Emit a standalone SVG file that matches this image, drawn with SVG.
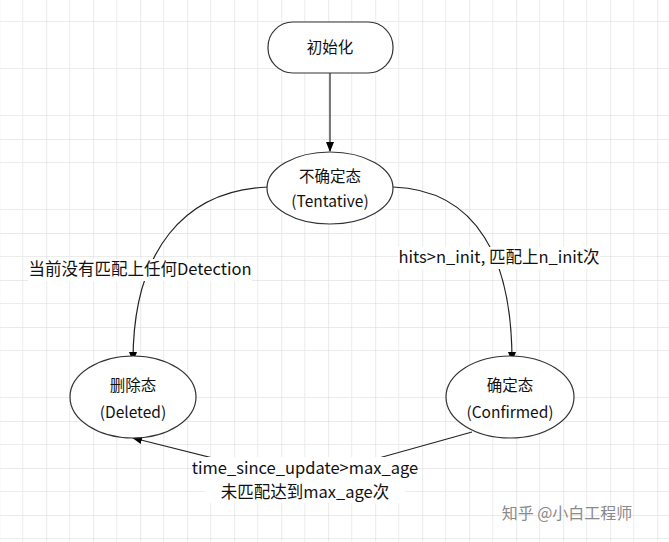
<svg xmlns="http://www.w3.org/2000/svg" width="669" height="542" viewBox="0 0 669 542">
<defs>
<pattern id="g" x="-0.8" y="-2" width="47" height="47" patternUnits="userSpaceOnUse">
<path d="M23.5 0V47M0 23.5H47" stroke="#ececec" stroke-width="1" fill="none"/>
<path d="M0 0V47M0 0H47" stroke="#d6d6d6" stroke-width="1" fill="none"/>
</pattern>
<marker id="a" markerWidth="10" markerHeight="10" refX="9" refY="5" orient="auto" markerUnits="userSpaceOnUse"><path d="M0,1L10,5L0,9Z" fill="#000"/></marker>
</defs>
<style>
text{font-family:"Noto Sans CJK SC","Noto Sans",sans-serif;font-size:15.5px;fill:#111;text-anchor:middle}
.l{font-size:16.5px}
.n{fill:#fff;stroke:#333;stroke-width:1.2}
.e{fill:none;stroke:#222;stroke-width:1.2}
</style>
<rect width="669" height="542" fill="#fff"/>
<rect width="669" height="542" fill="url(#g)"/>
<g id="edges">
<path class="e" d="M330,73V151" marker-end="url(#a)"/>
<path class="e" d="M268,187C185,190 133,250 133,361" marker-end="url(#a)"/>
<path class="e" d="M393,187C478,190 512,260 512,361" marker-end="url(#a)"/>
<path class="e" d="M472,432L300,480L133,438" marker-end="url(#a)"/>
</g>
<g id="init"><rect class="n" x="268" y="22" width="125" height="51" rx="25"/><text x="330" y="53">初始化</text></g>
<g id="tentative"><ellipse class="n" cx="330" cy="188" rx="63" ry="36"/><text x="330" y="182">不确定态</text><text x="330" y="207">(Tentative)</text></g>
<g id="deleted"><ellipse class="n" cx="133" cy="397" rx="63" ry="41"/><text x="133" y="391">删除态</text><text x="133" y="418">(Deleted)</text></g>
<g id="confirmed"><ellipse class="n" cx="510" cy="397" rx="64" ry="41"/><text x="510" y="391">确定态</text><text x="510" y="418">(Confirmed)</text></g>
<g id="labels">
<rect x="28" y="259" width="224" height="22" fill="#fff"/>
<text class="l" x="140" y="275">当前没有匹配上任何Detection</text>
<rect x="398" y="247" width="202" height="22" fill="#fff"/>
<text class="l" x="499" y="263">hits&gt;n_init, 匹配上n_init次</text>
<rect x="205" y="457" width="200" height="46" fill="#fff"/>
<text class="l" x="305" y="474">time_since_update&gt;max_age</text>
<text class="l" x="305" y="498">未匹配达到max_age次</text>
<text x="567" y="519" style="fill:#8a8a8a;font-size:16px">知乎 @小白工程师</text>
</g>
</svg>
